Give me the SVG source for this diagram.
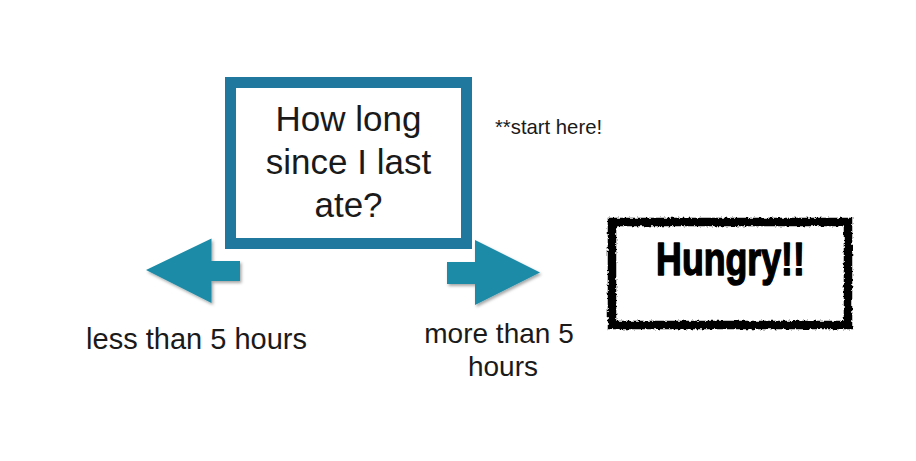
<svg xmlns="http://www.w3.org/2000/svg" width="916" height="461" viewBox="0 0 916 461">
  <style>
    .label { font-family: "Liberation Sans", Arial, sans-serif; fill: #1a1a1a; text-anchor: middle; }
    .arrow { fill: #1a8ba7; filter: url(#shadow); }
  </style>
  <defs>
    <filter id="shadow" x="-20%" y="-20%" width="150%" height="150%">
      <feDropShadow dx="1.5" dy="2" stdDeviation="1.5" flood-color="#000" flood-opacity="0.35"/>
    </filter>
    <filter id="rough" x="-5%" y="-10%" width="110%" height="120%">
      <feTurbulence type="fractalNoise" baseFrequency="0.35" numOctaves="2" seed="4" result="n"/>
      <feDisplacementMap in="SourceGraphic" in2="n" scale="4" xChannelSelector="R" yChannelSelector="G"/>
    </filter>
  </defs>
  <rect width="916" height="461" fill="#ffffff"/>

  <g id="question">
    <rect x="230.5" y="82.5" width="236" height="161" fill="#ffffff" stroke="#21789f" stroke-width="11"/>
    <text class="label" font-size="35" x="348.5" y="131">How long</text>
    <text class="label" font-size="35" x="348.5" y="174">since I last</text>
    <text class="label" font-size="35" x="348.5" y="217">ate?</text>
  </g>

  <g id="start-note">
    <text class="label" font-size="20.3" x="548.5" y="134">**start here!</text>
  </g>

  <g id="hungry">
    <rect x="612" y="222" width="236" height="103" fill="#ffffff" stroke="#000000" stroke-width="8.5" filter="url(#rough)"/>
    <text transform="translate(730.5,275) scale(0.76,1)" x="0" y="0" font-family="'Liberation Sans', Arial, sans-serif" font-weight="bold" font-size="47" text-anchor="middle" fill="#000000" stroke="#000000" stroke-width="1.5" stroke-linejoin="round">Hungry!!</text>
  </g>

  <g id="connectors">
    <polygon class="arrow" points="146,270 211.5,238.5 211.5,261 240,261 240,281 211.5,281 211.5,303"/>
    <polygon class="arrow" points="540,272.5 475,240 475,262 447,262 447,284 475,284 475,305"/>
  </g>

  <g id="labels">
    <text class="label" font-size="29" x="196.5" y="349">less than 5 hours</text>
    <text class="label" font-size="28" x="499" y="343">more than 5</text>
    <text class="label" font-size="28" x="503" y="376">hours</text>
  </g>
</svg>
